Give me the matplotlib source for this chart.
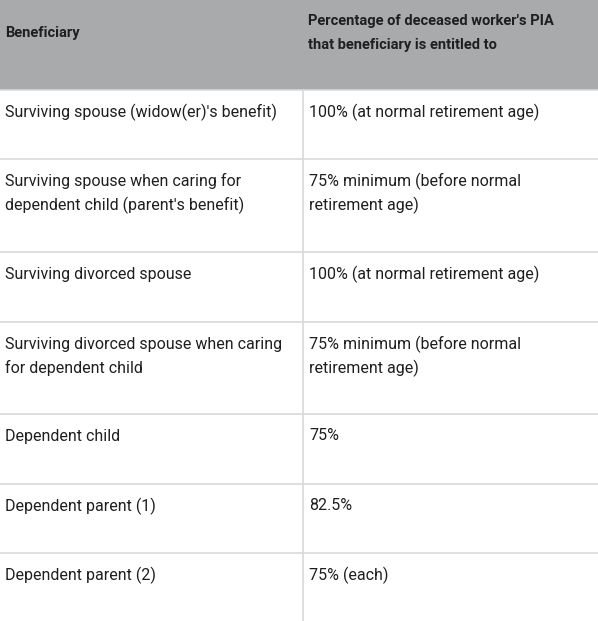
import matplotlib
matplotlib.use("Agg")
import matplotlib.pyplot as plt

header = ["Beneficiary", "Percentage of deceased worker's PIA\nthat beneficiary is entitled to"]
beneficiaries = [
    "Surviving spouse (widow(er)'s benefit)",
    "Surviving spouse when caring for\ndependent child (parent's benefit)",
    "Surviving divorced spouse",
    "Surviving divorced spouse when caring\nfor dependent child",
    "Dependent child",
    "Dependent parent (1)",
    "Dependent parent (2)",
]
percentages = [
    "100% (at normal retirement age)",
    "75% minimum (before normal\nretirement age)",
    "100% (at normal retirement age)",
    "75% minimum (before normal\nretirement age)",
    "75%",
    "82.5%",
    "75% (each)",
]

W, H = 598, 621
row_edges = [90, 159, 252, 322, 414, 484, 553, 621]
col_x = [0, 303, 598]
plt.rcParams['font.family'] = ['Roboto', 'DejaVu Sans']

fig = plt.figure(figsize=(W/100, H/100), dpi=100)
ax = fig.add_axes([0, 0, 1, 1])
ax.set_xlim(0, W); ax.set_ylim(H, 0); ax.axis('off')

ax.add_patch(plt.Rectangle((0, 0), W, row_edges[0], color='#a9aaab', lw=0))
ax.plot([col_x[1], col_x[1]], [row_edges[0], H], color='#d9d9d9', lw=1.2)
for y in row_edges[:-1]:
    ax.plot([0, W], [y, y], color='#d9d9d9', lw=1.2)

tc = '#1f1f1f'
fs = 11.5
lh = 24
def draw(x, ytop, txt, weight='normal', size=fs):
    for i, line in enumerate(txt.split('\n')):
        ax.text(x, ytop + i*lh, line, ha='left', va='center', fontsize=size,
                color=tc, fontweight=weight)

draw(5, 33, header[0], weight='semibold', size=10.5)
draw(308, 21, header[1], weight='semibold', size=10.5)
for i, (b, p) in enumerate(zip(beneficiaries, percentages)):
    top = row_edges[i]
    draw(5, top + 22, b)
    draw(309, top + 22, p)

fig.savefig("out.png", dpi=100)
